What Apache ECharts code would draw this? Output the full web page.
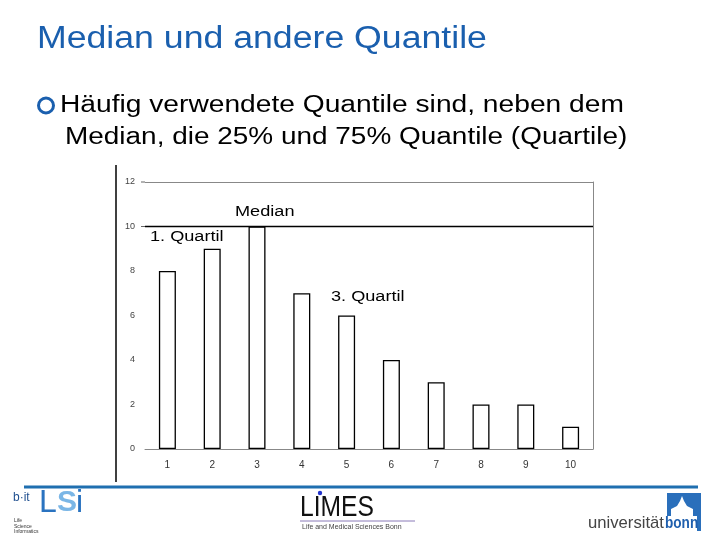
<!DOCTYPE html>
<html>
<head>
<meta charset="utf-8">
<script src="https://cdn.jsdelivr.net/npm/echarts@6/dist/echarts.min.js"></script>
<style>html,body{margin:0;padding:0;background:#fff}#c{width:720px;height:540px}</style>
</head>
<body>
<div id="c"></div>
<script>
const categories = ['1','2','3','4','5','6','7','8','9','10'];
const counts = [8, 9, 10, 7, 6, 4, 3, 2, 2, 1];
const yTicks = [0, 2, 4, 6, 8, 10, 12];
const medianLine = 10;
const titleText = 'Median und andere Quantile';
const bulletLines = ['Häufig verwendete Quantile sind, neben dem', 'Median, die 25% und 75% Quantile (Quartile)'];
const annotations = [
  {text: 'Median', x: 235, y: 212},
  {text: '1. Quartil', x: 150, y: 237},
  {text: '3. Quartil', x: 331, y: 297}
];

const chart = echarts.init(document.getElementById('c'), null, {renderer: 'canvas'});
const F = 'Arial, "Liberation Sans", sans-serif';
const blue = '#1a5fae';

function txt(x, y, text, font, fill, sx, extra) {
  return Object.assign({type: 'text', x: x, y: y, scaleX: sx || 1,
    style: Object.assign({text: text, font: font, fill: fill, verticalAlign: 'middle', align: 'left'}, extra || {})});
}

const option = {
  animation: false,
  backgroundColor: '#fff',
  grid: {left: 145, right: 127, top: 182, bottom: 91, containLabel: false},
  xAxis: {
    type: 'category',
    data: categories,
    axisLine: {lineStyle: {color: '#888', width: 1}},
    axisTick: {show: false},
    axisLabel: {color: '#333', fontSize: 10, fontFamily: F, margin: 11}
  },
  yAxis: [{
    type: 'value', min: 0, max: 12, interval: 2,
    axisLine: {show: false},
    axisTick: {show: false},
    splitLine: {show: false},
    axisLabel: {color: '#444', fontSize: 9, fontFamily: F, margin: 10,
      formatter: v => yTicks.includes(v) ? String(v) : ''}
  }, {
    type: 'value', min: 0, max: 12, interval: 2, position: 'right',
    axisLine: {show: true, lineStyle: {color: '#888', width: 1}},
    axisTick: {show: false}, axisLabel: {show: false}, splitLine: {show: false}
  }],
  series: [{
    type: 'bar',
    data: counts,
    barWidth: 17,
    itemStyle: {color: '#fff', borderColor: '#000', borderWidth: 1.3},
    markLine: {
      silent: true, symbol: 'none', label: {show: false},
      data: [
        {yAxis: 12, lineStyle: {color: '#888', width: 1, type: 'solid'}},
        {yAxis: medianLine, lineStyle: {color: '#000', width: 1.3, type: 'solid'}}
      ]
    }
  }],
  graphic: [
    txt(37, 39, titleText, '31px ' + F, blue, 1.15),
    {type: 'circle', shape: {cx: 46, cy: 105.5, r: 7.5}, style: {fill: 'none', stroke: blue, lineWidth: 3}},
    txt(60, 106, bulletLines[0], '23px ' + F, '#000', 1.225),
    txt(65, 138, bulletLines[1], '23px ' + F, '#000', 1.215),
    {type: 'line', shape: {x1: 116, y1: 165, x2: 116, y2: 482}, style: {stroke: '#000', lineWidth: 1.5}},
    {type: 'line', shape: {x1: 141, y1: 182, x2: 145, y2: 182}, style: {stroke: '#666', lineWidth: 1}},
    {type: 'line', shape: {x1: 141, y1: 226.5, x2: 145, y2: 226.5}, style: {stroke: '#666', lineWidth: 1}},
    ...annotations.map(a => txt(a.x, a.y, a.text, '15.5px ' + F, '#000', 1.17)),
    // footer
    {type: 'line', shape: {x1: 24, y1: 487, x2: 698, y2: 487}, style: {stroke: '#1f6fb0', lineWidth: 3}},
    txt(13, 498, 'b·it', '12px ' + F, '#1f4f8f', 1),
    txt(39, 503, 'L', '32px ' + F, '#2a73c0', 1),
    txt(57, 503, 'S', 'bold 30px ' + F, '#7ab6e6', 1),
    txt(76, 503, 'i', '32px ' + F, '#2a73c0', 1),
    {type: 'text', x: 14, y: 518, style: {text: 'Life\nScience\nInformatics', font: '5px ' + F, fill: '#333', lineHeight: 5.5}},
    txt(300, 508, 'LIMES', '29px "Liberation Sans Narrow", ' + F, '#111', 0.85),
    {type: 'circle', shape: {cx: 320, cy: 493, r: 2.2}, style: {fill: '#2233cc'}},
    {type: 'line', shape: {x1: 300, y1: 521, x2: 415, y2: 521}, style: {stroke: '#8a7ab8', lineWidth: 1}},
    txt(302, 527, 'Life and Medical Sciences Bonn', '7px ' + F, '#444', 1),
    {type: 'rect', shape: {x: 667, y: 493, width: 31, height: 23}, style: {fill: '#2a6fbb'}},
    {type: 'polygon', shape: {points: [[671,516],[671,509],[677,506],[680,501],[682,496],[684,501],[687,506],[693,509],[693,516]]}, style: {fill: '#fff'}},
    {type: 'rect', shape: {x: 697, y: 493, width: 4, height: 38}, style: {fill: '#2a6fbb'}},
    txt(588, 523, 'universität', '17px ' + F, '#444', 0.98),
    txt(665, 523, 'bonn', 'bold 17px ' + F, '#1f5fae', 0.8)
  ]
};
chart.setOption(option);
</script>
</body>
</html>
